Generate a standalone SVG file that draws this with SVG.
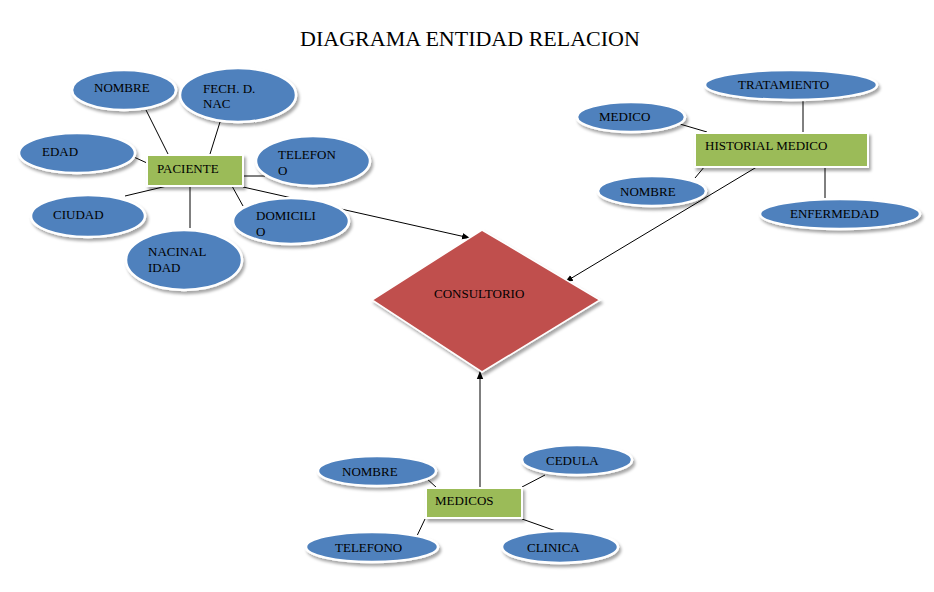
<svg xmlns="http://www.w3.org/2000/svg" width="934" height="592" viewBox="0 0 934 592">
<defs>
<marker id="ar" viewBox="0 0 10 10" refX="10" refY="5" markerWidth="8" markerHeight="8" orient="auto-start-reverse"><path d="M0,1 L10,5 L0,9 z" fill="#000"/></marker>
<filter id="sh" x="-20%" y="-20%" width="150%" height="160%"><feDropShadow dx="2" dy="3" stdDeviation="1.5" flood-color="#000" flood-opacity="0.35"/></filter>
</defs>
<style>
text{font-family:"Liberation Serif",serif;font-size:13px;fill:#000}
.at{fill:#4f81bd;stroke:#fff;stroke-width:2.5;filter:url(#sh)}
.en{fill:#9bbb59;stroke:#fff;stroke-width:2;filter:url(#sh)}
.ln{stroke:#000;stroke-width:1;fill:none}
</style>
<rect width="934" height="592" fill="#fff"/>
<text x="470" y="46" text-anchor="middle" style="font-size:22px">DIAGRAMA ENTIDAD RELACION</text>
<g id="connectors">
<line class="ln" x1="146" y1="110" x2="168" y2="154"/>
<line class="ln" x1="220" y1="122" x2="210" y2="154"/>
<line class="ln" x1="125" y1="153" x2="147" y2="163"/>
<line class="ln" x1="243" y1="176" x2="265" y2="176"/>
<line class="ln" x1="125" y1="196" x2="167" y2="186"/>
<line class="ln" x1="190" y1="186" x2="190" y2="228"/>
<line class="ln" x1="232" y1="186" x2="243" y2="206"/>
<line class="ln" x1="243" y1="187" x2="470" y2="238" marker-end="url(#ar)"/>
<line class="ln" x1="673" y1="122" x2="707" y2="132"/>
<line class="ln" x1="803" y1="100" x2="803" y2="133"/>
<line class="ln" x1="695" y1="178" x2="705" y2="166"/>
<line class="ln" x1="825" y1="167" x2="825" y2="198"/>
<line class="ln" x1="760" y1="165" x2="565" y2="282" marker-end="url(#ar)"/>
<line class="ln" x1="425" y1="477" x2="437" y2="488"/>
<line class="ln" x1="522" y1="487" x2="545" y2="475"/>
<line class="ln" x1="425" y1="519" x2="415" y2="540"/>
<line class="ln" x1="522" y1="519" x2="556" y2="531"/>
<line class="ln" x1="480" y1="488" x2="480" y2="371" marker-end="url(#ar)"/>
</g>
<g id="consultorio"><polygon points="482,230 600,300 482,372 372,300" fill="#c0504d" stroke="#fff" stroke-width="1.5" filter="url(#sh)"/><text x="434" y="298">CONSULTORIO</text></g>
<g id="paciente"><rect class="en" x="147" y="155" width="96" height="31"/><text x="157" y="173">PACIENTE</text></g>
<g id="p-nombre"><ellipse class="at" cx="124" cy="90" rx="52" ry="20"/><text x="94" y="92">NOMBRE</text></g>
<g id="p-fech"><ellipse class="at" cx="238" cy="95" rx="58" ry="27"/><text x="203" y="93">FECH. D.</text><text x="203" y="108">NAC</text></g>
<g id="p-edad"><ellipse class="at" cx="77" cy="153" rx="58" ry="20"/><text x="42" y="156">EDAD</text></g>
<g id="p-telefono"><ellipse class="at" cx="313" cy="161" rx="57" ry="25"/><text x="278" y="159">TELEFON</text><text x="278" y="175">O</text></g>
<g id="p-ciudad"><ellipse class="at" cx="88" cy="216" rx="57" ry="21"/><text x="53" y="219">CIUDAD</text></g>
<g id="p-domicilio"><ellipse class="at" cx="291" cy="221" rx="58" ry="23"/><text x="256" y="220">DOMICILI</text><text x="256" y="236">O</text></g>
<g id="p-nacionalidad"><ellipse class="at" cx="184" cy="260" rx="58" ry="30"/><text x="148" y="256">NACINAL</text><text x="148" y="272">IDAD</text></g>
<g id="historial"><rect class="en" x="695" y="133" width="173" height="34"/><text x="705" y="150">HISTORIAL MEDICO</text></g>
<g id="h-tratamiento"><ellipse class="at" cx="791" cy="85" rx="86" ry="15"/><text x="738" y="89">TRATAMIENTO</text></g>
<g id="h-medico"><ellipse class="at" cx="631" cy="117" rx="54" ry="15"/><text x="599" y="121">MEDICO</text></g>
<g id="h-nombre"><ellipse class="at" cx="652" cy="191" rx="54" ry="15"/><text x="620" y="196">NOMBRE</text></g>
<g id="h-enfermedad"><ellipse class="at" cx="840" cy="214" rx="80" ry="15"/><text x="790" y="218">ENFERMEDAD</text></g>
<g id="medicos"><rect class="en" x="426" y="488" width="96" height="30"/><text x="435" y="505">MEDICOS</text></g>
<g id="m-nombre"><ellipse class="at" cx="377" cy="471" rx="59" ry="15"/><text x="342" y="476">NOMBRE</text></g>
<g id="m-cedula"><ellipse class="at" cx="577" cy="460" rx="55" ry="15"/><text x="546" y="465">CEDULA</text></g>
<g id="m-telefono"><ellipse class="at" cx="372" cy="547" rx="66" ry="15"/><text x="335" y="552">TELEFONO</text></g>
<g id="m-clinica"><ellipse class="at" cx="560" cy="547" rx="58" ry="16"/><text x="527" y="552">CLINICA</text></g>
</svg>
